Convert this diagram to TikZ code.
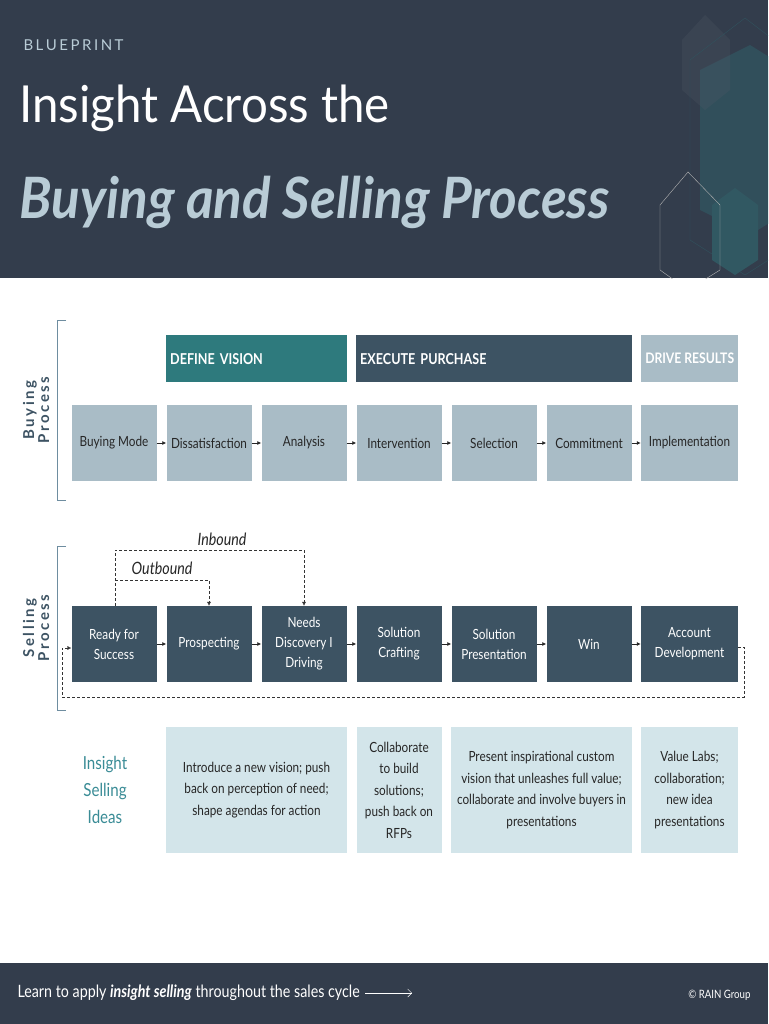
\documentclass[tikz,border=0pt]{standalone}
\usepackage{fontspec}
\setmainfont[FakeStretch=0.84]{Lato}
\newfontfamily\wide{Lato}
\usetikzlibrary{arrows.meta}
\definecolor{hdr}{HTML}{333D4C}
\definecolor{tealc}{HTML}{2E7A7D}
\definecolor{darkc}{HTML}{3D5363}
\definecolor{lightc}{HTML}{A9BCC6}
\definecolor{idea}{HTML}{D3E5EA}
\definecolor{itxt}{HTML}{3A8C96}
\definecolor{brk}{HTML}{6E8DA0}
\definecolor{ttl}{HTML}{B9CCD6}
\tikzset{
 buy/.style={fill=lightc,text=black!85,font=\fontsize{14}{16}\selectfont,align=center,minimum width=85pt,minimum height=76pt,inner sep=1pt},
 sell/.style={fill=darkc,text=white,font=\fontsize{14}{20}\selectfont,align=center,minimum width=85pt,minimum height=76pt,inner sep=1pt},
 ideabox/.style={fill=idea,text=black!85,font=\fontsize{14}{21.5}\selectfont,align=center,minimum height=126pt,inner sep=1pt},
 phase/.style={text=white,font=\bfseries\fontsize{15}{17}\selectfont,minimum height=47pt,inner sep=4pt},
 arr/.style={-{Latex[length=4pt,width=4pt]},thick,black!85},
 dsh/.style={densely dashed,black!80,thin},
}
\begin{document}
\begin{tikzpicture}[x=1pt,y=-1pt]
\useasboundingbox (0,0) rectangle (768,1024);
\fill[white] (0,0) rectangle (768,1024);
% header
\fill[hdr] (0,0) rectangle (768,278);
\begin{scope}
\clip (0,0) rectangle (768,278);
\fill[tealc!30!hdr] (700,70) -- (750,45) -- (790,70) -- (790,210) -- (750,235) -- (700,210) -- cycle;
\fill[hdr!85!white,opacity=0.25] (682,40) -- (705,15) -- (730,40) -- (730,90) -- (705,110) -- (682,90) -- cycle;
\draw[tealc!35!hdr] (690,60) -- (745,18) -- (800,60) -- (800,240) -- (745,275) -- (690,240) -- cycle;
\fill[tealc!45!hdr] (712,205) -- (735,188) -- (758,205) -- (758,260) -- (735,275) -- (712,260) -- cycle;
\draw[gray!60] (660,205) -- (688,172) -- (720,205) -- (720,270) -- (688,290) -- (660,270) -- cycle;
\end{scope}
\node[anchor=west,text=ttl,font=\wide\fontsize{15}{17}\selectfont] (bp) at (20,45) {B\,L\,U\,E\,P\,R\,I\,N\,T};
\node[anchor=west,text=white,font=\wide\fontsize{51}{55}\selectfont\addfontfeature{FakeStretch=0.93}] (t1) at (16,108) {Insight Across the};
\node[anchor=west,text=ttl,font=\wide\bfseries\itshape\fontsize{57}{60}\selectfont\addfontfeature{FakeStretch=0.93}] (t2) at (16,202) {Buying and Selling Process};
% brackets
\draw[brk,thick] (66,320) -- (57,320) -- (57,500) -- (66,500);
\draw[brk,thick] (66,546) -- (57,546) -- (57,710) -- (66,710);
\node[rotate=90,font=\wide\bfseries\fontsize{15}{15}\selectfont,text=darkc,align=center] (bl) at (36,410) {B\,u\,y\,i\,n\,g\\P\,r\,o\,c\,e\,s\,s};
\node[rotate=90,font=\wide\bfseries\fontsize{15}{15}\selectfont,text=darkc,align=center] (sl) at (36,628) {S\,e\,l\,l\,i\,n\,g\\P\,r\,o\,c\,e\,s\,s};
% phases
\node[phase,fill=tealc,minimum width=181pt,anchor=north west,text width=173pt] (dv) at (166,335) {DEFINE VISION};
\node[phase,fill=darkc,minimum width=276pt,anchor=north west,text width=268pt] (ep) at (356,335) {EXECUTE PURCHASE};
\node[phase,fill=lightc,minimum width=97pt,anchor=north west,inner sep=3pt,font=\bfseries\fontsize{14.5}{17}\selectfont] (dr) at (641,335) {DRIVE RESULTS};
% buying row
\node[buy] (b1) at (114,443) {Buying Mode};
\node[buy] (b2) at (209,443) {Dissatisfaction};
\node[buy] (b3) at (304,443) {Analysis};
\node[buy] (b4) at (399,443) {Intervention};
\node[buy] (b5) at (494,443) {Selection};
\node[buy] (b6) at (589,443) {Commitment};
\node[buy,minimum width=97pt] (b7) at (689.5,443) {Implementation};
\foreach \a/\b in {b1/b2,b2/b3,b3/b4,b4/b5,b5/b6,b6/b7} \draw[arr] (\a.east) -- (\b.west);
% selling row
\node[sell] (s1) at (114,644) {Ready for\\Success};
\node[sell] (s2) at (209,644) {Prospecting};
\node[sell] (s3) at (304,644) {Needs\\Discovery I\\Driving};
\node[sell] (s4) at (399,644) {Solution\\Crafting};
\node[sell] (s5) at (494,644) {Solution\\Presentation};
\node[sell] (s6) at (589,644) {Win};
\node[sell,minimum width=97pt] (s7) at (689.5,644) {Account\\Development};
\foreach \a/\b in {s1/s2,s2/s3,s3/s4,s4/s5,s5/s6,s6/s7} \draw[arr] (\a.east) -- (\b.west);
% inbound/outbound
\coordinate (ob1) at (115,580); \coordinate (ob2) at (209,580);
\coordinate (ib1) at (115,550); \coordinate (ib2) at (304,550);
\draw[dsh,-{Latex[length=4pt,width=4pt]}] (s1.north -| ob1) -- (ib1) -- (ib2) -- (s3.north -| ib2);
\draw[dsh,-{Latex[length=4pt,width=4pt]}] (ob1) -- (ob2) -- (s2.north -| ob2);
\node[font=\itshape\fontsize{17}{19}\selectfont,text=black!85] (inl) at (222,539) {Inbound};
\node[font=\itshape\fontsize{17}{19}\selectfont,text=black!85] (outl) at (162,568) {Outbound};
% loop back
\coordinate (l1) at (744,647); \coordinate (l2) at (744,697); \coordinate (l3) at (62,697); \coordinate (l4) at (62,648);
\draw[dsh,-{Latex[length=4pt,width=4pt]}] (s7.east |- l1) -- (l1) -- (l2) -- (l3) -- (l4) -- (s1.west |- l4);
% ideas
\node[align=center,text=itxt,font=\fontsize{18}{27}\selectfont] (isi) at (105,790) {Insight\\Selling\\Ideas};
\node[ideabox,minimum width=181pt] (i1) at (256.5,790) {Introduce a new vision; push\\back on perception of need;\\shape agendas for action};
\node[ideabox,minimum width=85pt] (i2) at (399,790) {Collaborate\\to build\\solutions;\\push back on\\RFPs};
\node[ideabox,minimum width=181pt] (i3) at (541.5,790) {Present inspirational custom\\vision that unleashes full value;\\collaborate and involve buyers in\\presentations};
\node[ideabox,minimum width=97pt] (i4) at (689.5,790) {Value Labs;\\collaboration;\\new idea\\presentations};
% footer
\fill[hdr] (0,963) rectangle (768,1024);
\node[anchor=west,text=white,font=\fontsize{17}{19}\selectfont] (ft) at (14,993) {Learn to apply \textbf{\itshape insight selling} throughout the sales cycle};
\coordinate (fa1) at (365,993); \coordinate (fa2) at (412,993);
\draw[white,-{Straight Barb[length=4pt]}] (fa1) -- (fa2);
\node[anchor=east,text=white,font=\fontsize{11.5}{13}\selectfont] (cp) at (754,995) {© RAIN Group};
\end{tikzpicture}
\end{document}
